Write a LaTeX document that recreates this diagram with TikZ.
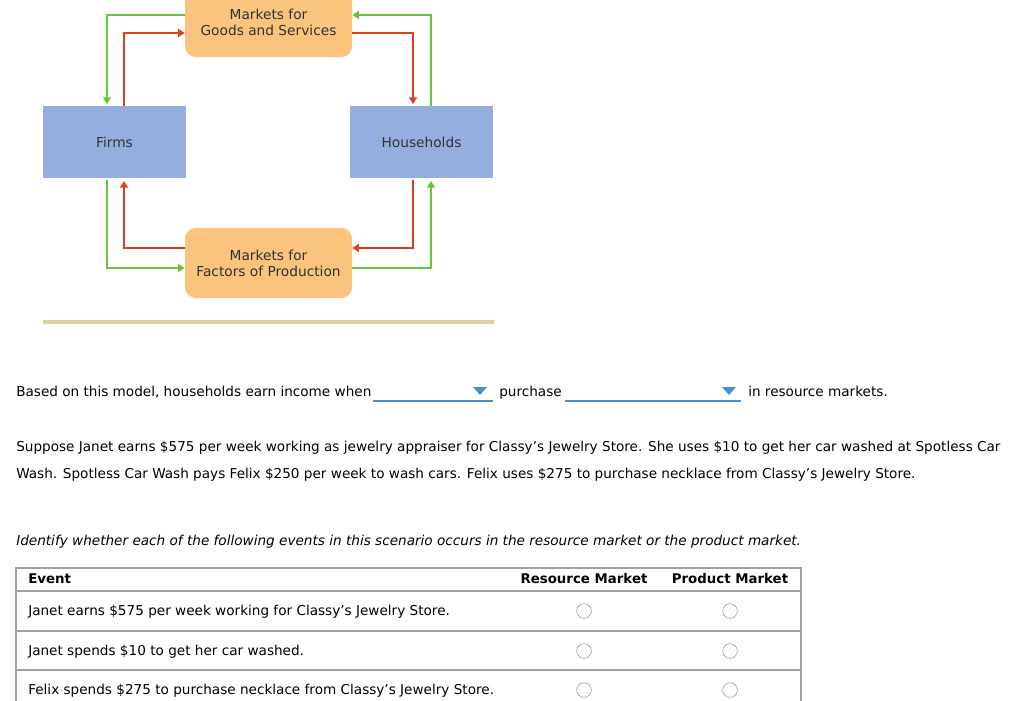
\documentclass[tikz,border=0pt]{standalone}
\usepackage{fontspec}
\setmainfont{DejaVu Sans}
\usetikzlibrary{arrows.meta}
\definecolor{gbox}{HTML}{FAC47E}
\definecolor{bbox}{HTML}{95AEDF}
\definecolor{gr}{HTML}{63C63C}
\definecolor{rd}{HTML}{D7411E}
\definecolor{tan}{HTML}{DCD0A6}
\definecolor{sel}{HTML}{4D8FCC}
\definecolor{grid}{HTML}{A0A0A0}
\newcommand{\apo}{\char"27\relax}
\tikzset{
 mkt/.style={fill=gbox,rounded corners=8pt,minimum width=125.25pt,minimum height=52.5pt,align=center,font=\fontsize{10.3}{12}\selectfont,text=black!80},
 agent/.style={fill=bbox,minimum width=107.25pt,minimum height=54pt,font=\fontsize{10.3}{12}\selectfont,text=black!80},
 gflow/.style={draw=gr,line width=2pt,-{Triangle[length=5pt,width=6pt]}},
 rflow/.style={draw=rd,line width=2pt,-{Triangle[length=5pt,width=6pt]}},
 txt/.style={anchor=base west,inner sep=0pt,font=\fontsize{10.2}{12}\selectfont},
 radio/.style={circle,draw=black!45,minimum size=11pt,inner sep=0pt,fill=white}
}
\begin{document}
\begin{tikzpicture}[x=0.75pt,y=-0.75pt]
\useasboundingbox (0,0) rectangle (1024,700);
\node[mkt] (gs) at (268.5,22) {Markets for\\Goods and Services};
\node[mkt] (fp) at (268.5,263) {Markets for\\Factors of Production};
\node[agent] (f) at (114.5,142) {Firms};
\node[agent] (h) at (421.5,142) {Households};
\draw[gflow] (gs.west |- 0,15) -| (107,104);
\draw[rflow] (124,106) |- (gs.west |- 0,33);
\draw[rflow] (gs.east |- 0,33) -| (413,104);
\draw[gflow] (431,106) |- (gs.east |- 0,15);
\draw[gflow] (107,180) |- (fp.west |- 0,268);
\draw[rflow] (fp.west |- 0,248) -| (124,181);
\draw[rflow] (413,180) |- (fp.east |- 0,248);
\draw[gflow] (fp.east |- 0,268) -| (431,181);
\fill[tan] (43,320) rectangle (494,324);
\node[txt] (s1) at (16,396) {Based on this model, households earn income when};
\draw[sel,line width=1.5pt] (373,401) -- (493,401);
\fill[sel] (473,387) -- (487,387) -- (480,395) -- cycle;
\node[txt] (s2) at (499,396) {purchase};
\draw[sel,line width=1.5pt] (565,401) -- (741,401);
\fill[sel] (722,387) -- (736,387) -- (729,395) -- cycle;
\node[txt] (s3) at (748,396) {in resource markets.};
\node[txt] (p1) at (16,451) {Suppose Janet earns \$575 per week working as jewelry appraiser for Classy\apo s Jewelry Store. She uses \$10 to get her car washed at Spotless Car};
\node[txt] (p2) at (16,478) {Wash. Spotless Car Wash pays Felix \$250 per week to wash cars. Felix uses \$275 to purchase necklace from Classy\apo s Jewelry Store.};
\node[txt,font=\fontsize{10.2}{12}\selectfont\itshape] (p3) at (16,545) {Identify whether each of the following events in this scenario occurs in the resource market or the product market.};
\draw[grid,line width=0.8pt] (16,702) -- (16,568) -- (801,568) -- (801,702);
\foreach \y in {591,631,670} \draw[grid,line width=0.8pt] (16,\y) -- (801,\y);
\node[txt,font=\fontsize{10}{12}\selectfont\bfseries] (h1) at (28,583) {Event};
\node[anchor=base,inner sep=0pt,font=\fontsize{10}{12}\selectfont\bfseries] (h2) at (584,583) {Resource Market};
\node[anchor=base,inner sep=0pt,font=\fontsize{10}{12}\selectfont\bfseries] (h3) at (730,583) {Product Market};
\node[txt] (r1) at (28,615) {Janet earns \$575 per week working for Classy\apo s Jewelry Store.};
\node[txt] (r2) at (28,655) {Janet spends \$10 to get her car washed.};
\node[txt] (r3) at (28,694) {Felix spends \$275 to purchase necklace from Classy\apo s Jewelry Store.};
\foreach \y [count=\i] in {611,651,690}{
 \node[radio] (ra\i) at (584,\y) {};
 \node[radio] (rb\i) at (730,\y) {};
}
\end{tikzpicture}
\end{document}
